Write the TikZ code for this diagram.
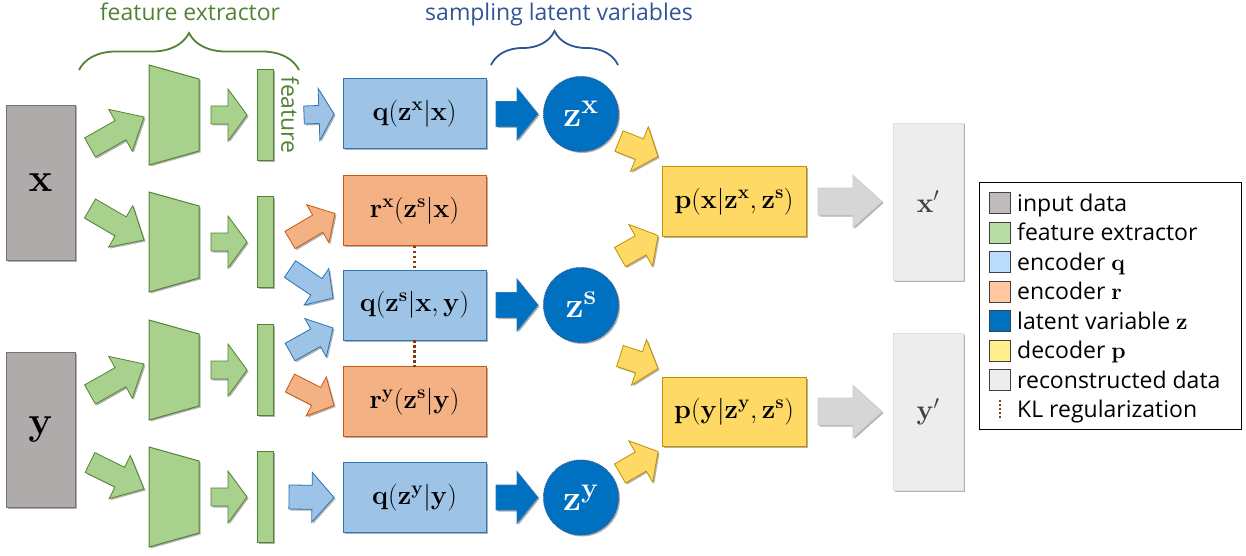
\RequirePackage{fix-cm}
\documentclass[tikz,border=0pt]{standalone}
\usepackage[no-math]{fontspec}
\newfontfamily\labelfont{Open Sans}
\usetikzlibrary{calc}
\usetikzlibrary{shadows}
\usetikzlibrary{decorations.pathreplacing}

\definecolor{indata}{RGB}{175,171,171}
\definecolor{indataline}{RGB}{118,113,113}
\definecolor{fegreen}{RGB}{169,209,142}
\definecolor{fegreenline}{RGB}{84,130,53}
\definecolor{encq}{RGB}{157,195,230}
\definecolor{encqline}{RGB}{46,117,182}
\definecolor{encr}{RGB}{244,177,131}
\definecolor{encrline}{RGB}{197,90,17}
\definecolor{latent}{RGB}{0,112,192}
\definecolor{latentline}{RGB}{40,90,160}
\definecolor{dec}{RGB}{255,217,102}
\definecolor{decline}{RGB}{191,144,0}
\definecolor{recon}{RGB}{237,237,237}
\definecolor{reconarrow}{RGB}{214,214,214}
\definecolor{klbrown}{RGB}{132,60,12}
\definecolor{titleblue}{RGB}{47,85,151}
\definecolor{lgin}{RGB}{191,187,187}
\definecolor{lgfe}{RGB}{183,221,165}
\definecolor{lgq}{RGB}{187,220,250}
\definecolor{lgr}{RGB}{255,200,160}
\definecolor{lgp}{RGB}{255,240,140}

\newcommand{\latentlabel}[1]{$\mathbf{z}^{\mbox{\fontsize{28}{28}\selectfont$\mathbf{#1}$}}$}

\tikzset{
  sh/.style={drop shadow={shadow xshift=1.5pt, shadow yshift=-1.5pt, opacity=.3, fill=black}},
  fat/.style n args={3}{to path={
    ($(\tikztostart)!#1!90:(\tikztotarget)$)
    -- ($(\tikztotarget)!#3!(\tikztostart)!#1!-90:(\tikztostart)$)
    -- ($(\tikztotarget)!#3!(\tikztostart)!#2!-90:(\tikztostart)$)
    -- (\tikztotarget)
    -- ($(\tikztotarget)!#3!(\tikztostart)!#2!90:(\tikztostart)$)
    -- ($(\tikztotarget)!#3!(\tikztostart)!#1!90:(\tikztostart)$)
    -- ($(\tikztostart)!#1!-90:(\tikztotarget)$) -- cycle}},
  bigfat/.style={fat={11pt}{24pt}{27pt}},
  smallfat/.style={fat={9pt}{26pt}{19pt}},
  smallqfat/.style={fat={9pt}{26pt}{15pt}},
  midfat/.style={fat={10pt}{22pt}{20pt}},
  qyfat/.style={fat={12pt}{25pt}{22pt}},
  latfat/.style={fat={12.5pt}{26pt}{21pt}},
  yelfat/.style={fat={11pt}{24pt}{20pt}},
  grayfat/.style={fat={13.5pt}{26pt}{29pt}},
  greenfill/.style={draw=fegreenline, fill=fegreen, line width=.8pt, sh},
  bluefill/.style={draw=encqline, fill=encq, line width=.8pt, sh},
  orangefill/.style={draw=encrline, fill=encr, line width=.8pt, sh},
  latentfill/.style={draw=encqline, fill=latent, line width=.8pt, sh},
  yellowfill/.style={draw=decline, fill=dec, line width=.8pt, sh},
  grayfill/.style={draw=black!20, fill=reconarrow, line width=.8pt, sh},
  lab/.style={font=\labelfont\fontsize{23}{27}\selectfont, inner sep=0pt},
  inbox/.style={rectangle, draw=indataline, fill=indata, line width=.8pt, minimum width=69pt, minimum height=155pt, inner sep=0pt, outer sep=0pt, sh, font=\fontsize{40}{40}\selectfont},
  hold/.style={minimum width=50pt, minimum height=100pt, inner sep=0pt, outer sep=0pt},
  fepath/.style={draw=fegreenline, fill=fegreen, line width=1pt, sh},
  bar/.style={rectangle, draw=fegreenline, fill=fegreen, line width=1pt, minimum width=16pt, minimum height=91pt, inner sep=0pt, outer sep=0pt, sh},
  encbox/.style={rectangle, line width=1pt, minimum width=143pt, minimum height=70pt, inner sep=0pt, outer sep=0pt, sh, font=\fontsize{27}{32}\selectfont},
  qbox/.style={encbox, draw=encqline, fill=encq},
  rbox/.style={encbox, draw=encrline, fill=encr},
  pbox/.style={encbox, draw=decline, fill=dec, minimum width=144pt, minimum height=69pt},
  zcirc/.style={circle, fill=latent, draw=latentline, dash pattern=on 1pt off .8pt, line width=1pt, minimum size=75pt, inner sep=0pt, text=white, sh, font=\fontsize{36}{36}\selectfont},
  outbox/.style={rectangle, draw=black!12, fill=recon, minimum width=70pt, minimum height=157pt, inner sep=0pt, outer sep=0pt, sh, text=black!75, font=\fontsize{28}{28}\selectfont},
  kl/.style={draw=klbrown, line width=2.5pt, dash pattern=on 2.5pt off 2.5pt},
  febrace/.style={decorate, decoration={brace, amplitude=37pt}, line width=1.8pt, draw=fegreenline},
  sampbrace/.style={decorate, decoration={brace, amplitude=34pt}, line width=1.8pt, draw=titleblue},
  legsq/.style={rectangle, draw=black!75, line width=.8pt, minimum size=21pt, inner sep=0pt},
  legmark/.style={minimum width=4pt, minimum height=20pt, inner sep=0pt, outer sep=0pt},
  legtext/.style={lab, anchor=base west},
}

\begin{document}
\begin{tikzpicture}[x=1pt,y=-1pt]
\useasboundingbox (0,0) rectangle (1246,556);

\node[inbox] (inx) at (40.5,182.5) {$\mathbf{x}$};
\node[inbox] (iny) at (40.5,429.5) {$\mathbf{y}$};

\foreach \row/\ypos in {1/115,2/242,3/370,4/497}{
  \node[hold] (fe\row) at (174,\ypos) {};
  \draw[fepath] (fe\row.north west) -- ([yshift=-14pt]fe\row.north east) -- ([yshift=14pt]fe\row.south east) -- (fe\row.south west) -- cycle;
  \node[bar] (ft\row) at (265,\ypos) {};
  \draw[smallfat, greenfill] ([xshift=12pt]fe\row.east) to ([xshift=-10pt]ft\row.west);
}

\draw[bigfat, greenfill] ([shift={(15,-35)}]inx.east) to ([shift={(-5,2)}]fe1.west);
\draw[bigfat, greenfill] ([shift={(15,26)}]inx.east) to ([shift={(-5,-2)}]fe2.west);
\draw[bigfat, greenfill] ([shift={(15,-35)}]iny.east) to ([shift={(-5,-6)}]fe3.west);
\draw[bigfat, greenfill] ([shift={(15,33)}]iny.east) to ([shift={(-5,-8)}]fe4.west);

\node[lab, text=fegreenline, rotate=-90] (feat) at (290,115) {feature};
\node[lab, text=fegreenline, anchor=base] (fetitle) at (190,20.5) {feature extractor};
\node[lab, text=titleblue, anchor=base] (samptitle) at (559,21) {sampling latent variables};
\draw[febrace] (79,70) -- (299,70);
\draw[sampbrace] (491,65) -- (618,65);

\node[qbox] (qx) at (414.5,114) {$\mathbf{q}(\mathbf{z}^{\mathbf{x}}|\mathbf{x})$};
\node[rbox] (rx) at (414.5,210.5) {$\mathbf{r}^{\mathbf{x}}(\mathbf{z}^{\mathbf{s}}|\mathbf{x})$};
\node[qbox] (qs) at (414.5,305) {$\mathbf{q}(\mathbf{z}^{\mathbf{s}}|\mathbf{x},\mathbf{y})$};
\node[rbox] (ry) at (414.5,401.5) {$\mathbf{r}^{\mathbf{y}}(\mathbf{z}^{\mathbf{s}}|\mathbf{y})$};
\node[qbox] (qy) at (414.5,497.5) {$\mathbf{q}(\mathbf{z}^{\mathbf{y}}|\mathbf{y})$};

\draw[smallqfat, bluefill] ([xshift=31pt]ft1.east) to ([xshift=-9pt]qx.west);
\draw[midfat, orangefill] ([shift={(17,-2)}]ft2.east) to ([shift={(-8,3)}]rx.west);
\draw[midfat, bluefill] ([shift={(17,27)}]ft2.east) to ([shift={(-10,-7)}]qs.west);
\draw[midfat, bluefill] ([shift={(17,-18)}]ft3.east) to ([shift={(-10,23)}]qs.west);
\draw[midfat, orangefill] ([shift={(17,13)}]ft3.east) to ([shift={(-9,4)}]ry.west);
\draw[qyfat, bluefill] ([xshift=16pt]ft4.east) to ([xshift=-9pt]qy.west);

\draw[kl] (rx.south) -- (qs.north);
\draw[kl] (qs.south) -- (ry.north);

\node[zcirc] (zx) at (581,114) {\latentlabel{x}};
\node[zcirc] (zs) at (581,305) {\latentlabel{s}};
\node[zcirc] (zy) at (581,497.5) {\latentlabel{y}};

\draw[latfat, latentfill] ([xshift=10pt]qx.east) to ([xshift=-5pt]zx.west);
\draw[latfat, latentfill] ([xshift=10pt]qs.east) to ([xshift=-5pt]zs.west);
\draw[latfat, latentfill] ([xshift=10pt]qy.east) to ([xshift=-5pt]zy.west);

\node[pbox] (px) at (734,201.5) {$\mathbf{p}(\mathbf{x}|\mathbf{z}^{\mathbf{x}},\mathbf{z}^{\mathbf{s}})$};
\node[pbox] (py) at (734,411.5) {$\mathbf{p}(\mathbf{y}|\mathbf{z}^{\mathbf{y}},\mathbf{z}^{\mathbf{s}})$};

\draw[yelfat, yellowfill] ([shift={(38,27)}]zx.center) to ([shift={(-4,-45)}]px.west);
\draw[yelfat, yellowfill] ([shift={(39,-48)}]zs.center) to ([shift={(-4,34)}]px.west);
\draw[yelfat, yellowfill] ([shift={(39,51)}]zs.center) to ([shift={(-4,-43)}]py.west);
\draw[yelfat, yellowfill] ([shift={(39,-24)}]zy.center) to ([shift={(-4,40)}]py.west);

\node[outbox] (xp) at (928,201.5) {$\mathbf{x}'$};
\node[outbox] (yp) at (928,411.5) {$\mathbf{y}'$};
\draw[grayfat, grayfill] ([xshift=12pt]px.east) to ([xshift=-11pt]xp.west);
\draw[grayfat, grayfill] ([xshift=12pt]py.east) to ([xshift=-11pt]yp.west);

\node[draw=black, line width=.8pt, fill=white, minimum width=262pt, minimum height=247pt, inner sep=0pt] (legend) at (1110,305.5) {};
\foreach \col/\lbl [count=\i] in {lgin/input data, lgfe/feature extractor, lgq/encoder $\mathbf{q}$, lgr/encoder $\mathbf{r}$, latent/latent variable $\mathbf{z}$, lgp/decoder $\mathbf{p}$, recon/reconstructed data}{
  \node[legsq, fill=\col] (sq\i) at (999.5,173.5+29.5*\i) {};
  \node[legtext] (lt\i) at (1017,181.5+29.5*\i) {\lbl};
}
\node[legmark] (sq8) at (999.5,409.5) {};
\draw[kl, line width=2pt, dash pattern=on 2pt off 2pt] (sq8.north) -- (sq8.south);
\node[legtext] (lt8) at (1017,417.5) {KL regularization};
\end{tikzpicture}
\end{document}
